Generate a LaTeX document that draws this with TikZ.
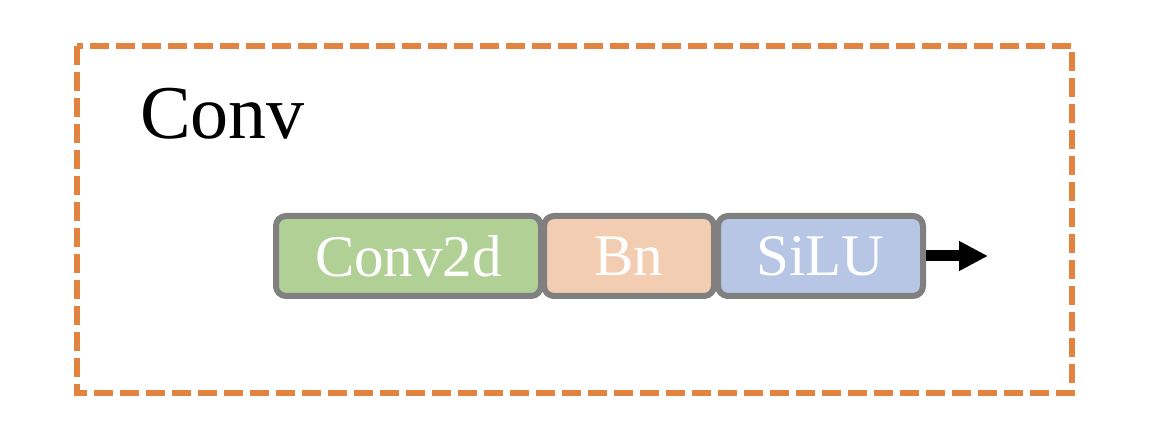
\documentclass[tikz,border=0pt]{standalone}
\usepackage{fontspec}
\setmainfont{Liberation Serif}
\usetikzlibrary{arrows.meta}
\definecolor{gconv}{HTML}{B1D095}
\definecolor{gbn}{HTML}{F2CDB2}
\definecolor{gsilu}{HTML}{B7C6E4}
\definecolor{orng}{HTML}{E2833F}
\definecolor{bordergray}{HTML}{808080}
\tikzset{
  blk/.style={draw=bordergray, line width=6pt, rounded corners=10pt,
    minimum height=80pt, inner sep=0pt, text=white,
    font=\fontsize{59}{61}\selectfont},
  frame/.style={draw=orng, line width=6pt, dash pattern=on 19pt off 7pt},
}
\begin{document}
\begin{tikzpicture}[x=1pt,y=-1pt]
\useasboundingbox (0,0) rectangle (1154,430);
\draw[frame] (77,46) rectangle (1072,393);
\node[anchor=base west, inner sep=0pt, font=\fontsize{76}{79}\selectfont] (title) at (140,139) {Conv};
\node[blk, fill=gconv, minimum width=265pt] (c2d) at (408.5,256) {Conv2d};
\node[blk, fill=gbn, minimum width=170pt] (bn) at (629,256) {Bn};
\node[blk, fill=gsilu, minimum width=205pt] (silu) at (820.5,256) {SiLU};
\coordinate (tip) at (988,256);
\draw[line width=11pt, -{Triangle[length=29pt,width=28pt]}] (silu.east) -- (tip);
\end{tikzpicture}
\end{document}
